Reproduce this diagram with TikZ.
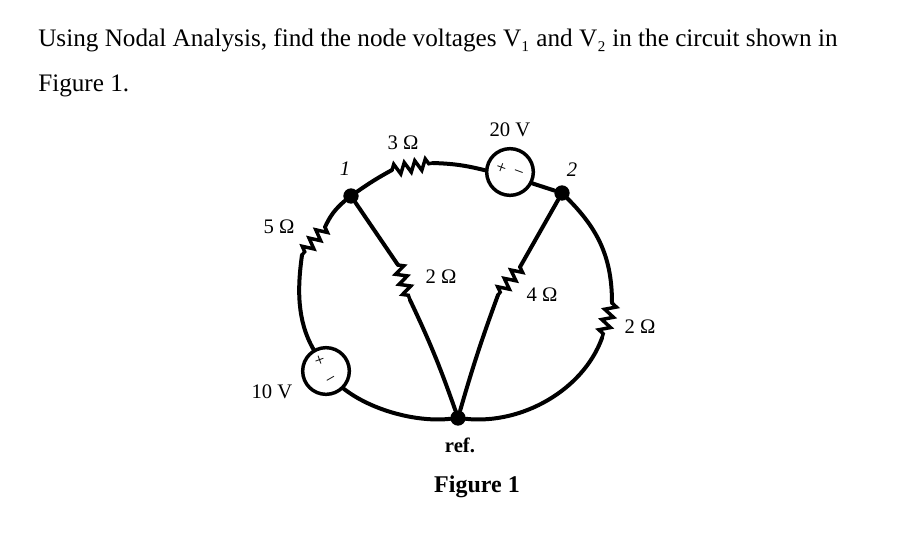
\documentclass[tikz,border=0pt]{standalone}
\usepackage{fontspec}
\setmainfont{Liberation Serif}
\usetikzlibrary{decorations.pathmorphing}
\tikzset{
  wire/.style={line width=3pt,line cap=round},
  resistor/.style={line width=2.6pt,decorate,decoration={zigzag,segment length=8pt,amplitude=4pt}},
  junction/.style={circle,fill=black,inner sep=0pt,minimum size=11.5pt},
  source/.style={circle,draw,line width=2.6pt,inner sep=0pt,minimum size=35pt},
  value/.style={inner sep=0pt,font=\fontsize{15.5}{17}\selectfont},
  polarity/.style={inner sep=0pt,font=\fontsize{13.5}{14}\selectfont},
  heading/.style={inner sep=0pt,anchor=base west,font=\fontsize{18.9}{21}\selectfont}
}
\begin{document}
\begin{tikzpicture}[x=0.75pt,y=-0.75pt]
    \useasboundingbox (0,0) rectangle (916,540);
    % text above the circuit
    \node[heading] (line1) at (38,46) {Using Nodal Analysis, find the node voltages V₁ and V₂ in the circuit shown in};
    \node[heading] (line2) at (38,91) {Figure 1.};
    % junctions and sources
    \node[junction] (N1) at (351,196) {};
    \node[junction] (N2) at (562,193) {};
    \node[junction] (ref) at (458,418) {};
    \node[source] (S20) at (510,172) {};
    \node[source] (S10) at (326,371) {};
    % resistor ends
    \foreach \name/\xa/\ya/\xb/\yb in {Ra/392/170/433/163,Rb/325/227/302/255,Rc/398/265/410/300,Rd/520/267/498/295,Re/612/303/602/338} {
      \coordinate (\name1) at (\xa,\ya);
      \coordinate (\name2) at (\xb,\yb);
      \draw[resistor] (\name1) -- (\name2);
    }
    % wires
    \draw[wire] (N1) to[bend left=3] (Ra1);
    \draw[wire] (Ra2) to[bend left=6] (S20.176);
    \draw[wire] (S20.-27) -- (N2);
    \draw[wire] (N1) to[bend right=12] (Rb1);
    \draw[wire] (Rb2) to[out=262,in=120,looseness=0.9] (S10.120);
    \draw[wire] (S10.-45) to[out=-38,in=186,looseness=0.8] (ref);
    \draw[wire] (N1) -- (Rc1);
    \draw[wire] (Rc2) to[bend left=3] (ref);
    \draw[wire] (N2) -- (Rd1);
    \draw[wire] (Rd2) to[bend right=2] (ref);
    \draw[wire] (N2) to[out=-45,in=90] (Re1);
    \draw[wire] (Re2) to[out=-110,in=-6,looseness=0.9] (ref);
    % labels
    \node[value] (L3) at (403,143) {3 Ω};
    \node[value] (L20) at (510,130) {20 V};
    \node[value] (L5) at (279,227) {5 Ω};
    \node[value] (Lc) at (441,277) {2 Ω};
    \node[value] (L4) at (542,295) {4 Ω};
    \node[value] (Le) at (640,327) {2 Ω};
    \node[value] (L10) at (272,392) {10 V};
    \node[value,font=\fontsize{15.5}{17}\selectfont\itshape] (L1) at (345,169) {1};
    \node[value,font=\fontsize{15.5}{17}\selectfont\itshape] (L2) at (572,170) {2};
    \node[value,font=\fontsize{15.5}{17}\selectfont\bfseries] (Lref) at (460,445) {ref.};
    \node[inner sep=0pt,font=\fontsize{18}{20}\selectfont\bfseries] (caption) at (477,487) {Figure 1};
    % polarity marks
    \node[polarity,rotate=-20] (P20) at (501,168) {+};
    \node[polarity,rotate=-20] (M20) at (518,174) {−};
    \node[polarity,rotate=20] (P10) at (320,361) {+};
    \node[polarity,rotate=30] (M10) at (332,381) {−};
  \end{tikzpicture}
\end{document}
